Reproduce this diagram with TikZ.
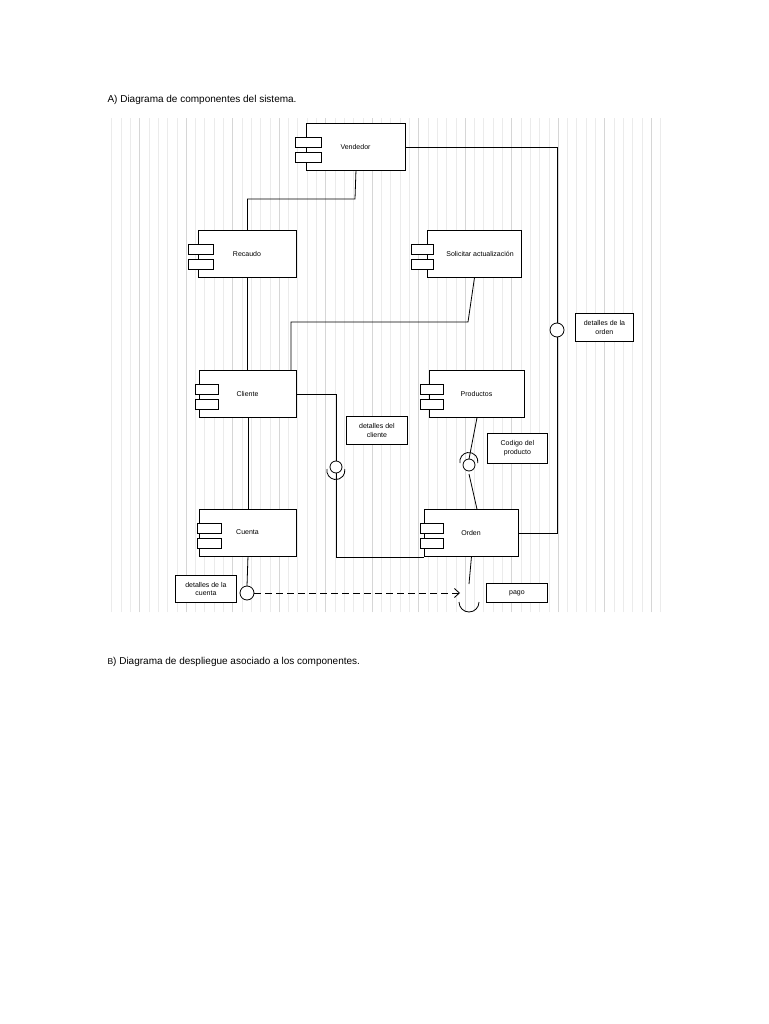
\documentclass[tikz,border=0pt]{standalone}
\usepackage{fontspec}
\setmainfont{Liberation Sans}
\usetikzlibrary{arrows.meta}
\begin{document}
\begin{tikzpicture}[x=1pt,y=-1pt,
  comp/.style={draw,line width=0.9pt,fill=white,inner sep=0pt,font=\fontsize{7}{8}\selectfont},
  tab/.style={draw,line width=0.9pt,fill=white},
  lab/.style={draw,line width=0.8pt,fill=white,align=center,inner sep=0pt,font=\fontsize{7}{8.5}\selectfont},
  wire/.style={line width=0.8pt},
  title/.style={anchor=west,font=\fontsize{10}{12}\selectfont}]
\useasboundingbox (0,0) rectangle (768,1024);
\fill[white] (0,0) rectangle (768,1024);
% grid
\draw[black!8,line width=0.3pt] (107,118) grid[step=9.3] (668,612);
\draw[black!16,line width=0.5pt] (107,118) grid[step=46.5] (668,612);
\node[title] (ta) at (104,100) {A) Diagrama de componentes del sistema.};
\node[title] (tb) at (104,662) {{\fontsize{8.5}{10}\selectfont B}) Diagrama de despliegue asociado a los componentes.};
% components
\newcommand\mycomp[7]{%
 \node[comp,minimum width=#3-#2,minimum height=47,anchor=north west] (#1) at (#2,#4) {};
 \draw[tab] (#5,#4+14) rectangle (#6,#4+24);
 \draw[tab] (#5,#4+29) rectangle (#6,#4+39);
 \node[font=\fontsize{7}{8}\selectfont] (#1t) at ($(#2,#4)!0.5!(#3,#4+47)$) {#7};}
\usetikzlibrary{calc}
\mycomp{ven}{306}{405}{123}{295}{321}{Vendedor}
\mycomp{rec}{198}{296}{230}{188}{213}{Recaudo}
\mycomp{sol}{427}{521}{230}{411}{433}{\hspace*{12pt}Solicitar actualización}
\mycomp{cli}{199}{296}{370}{195}{218}{Cliente}
\mycomp{pro}{429}{524}{370}{420}{443}{Productos}
\mycomp{cue}{199}{296}{509}{197}{221}{Cuenta}
\mycomp{ord}{424}{518}{509}{420}{443}{Orden}
% coordinates
\coordinate (b1) at (557,330);
\coordinate (b2) at (336,467);
\coordinate (b3) at (469,465);
\coordinate (b4) at (247,593);
\coordinate (s4) at (469,593);
% connectors
\draw[wire] (ven.south) -- (355,199) -| (rec.north);
\draw[wire] (rec.south) -- (cli.north -| rec.south);
\draw[wire] (sol.south) -- (468,322) -| (291,370);
\draw[wire] (cli.east) -| ($(b2)+(0,-6)$);
\draw[wire] ($(b2)+(0,6)$) |- (ord.south west);
\draw[wire] (pro.south) -- ($(b3)+(0,-6)$);
\draw[wire] ($(b3)+(0,9)$) -- (ord.north -| pro.south);
\draw[wire] (ven.east) -| ($(b1)+(0,-7)$);
\draw[wire] ($(b1)+(0,7)$) |- (ord.east);
\draw[wire] (cli.south) -- (cue.north);
\draw[wire] (cue.south) -- ($(b4)+(0,-7)$);
\draw[wire] (ord.south) -- ($(s4)+(0,-9)$);
% balls and sockets
\draw[wire,fill=white] (b1) circle (7);
\draw[wire,fill=white] (b2) circle (6);
\draw[wire] ($(b2)+(-9,2)$) arc (190:-10:9);
\draw[wire,fill=white] (b3) circle (6);
\draw[wire] ($(b3)+(-9,-2)$) arc (170:370:9);
\draw[wire,fill=white] (b4) circle (7);
\draw[wire] ($(s4)+(-10,9)$) arc (180:0:10 and 10);
\draw[wire,dashed,dash pattern=on 7pt off 4pt,-{Straight Barb[length=5pt,width=9pt]}] ($(b4)+(7,0)$) -- ($(s4)+(-9,0)$);
% labels
\node[lab,minimum width=58,minimum height=28,anchor=north west] (l1) at (575,313) {detalles de la\\orden};
\node[lab,minimum width=61,minimum height=28,anchor=north west] (l2) at (346,416) {detalles del\\cliente};
\node[lab,minimum width=60,minimum height=30,anchor=north west] (l3) at (487,433) {Codigo del\\producto};
\node[lab,minimum width=61,minimum height=27,anchor=north west] (l4) at (175,575) {detalles de la\\cuenta};
\node[lab,minimum width=61,minimum height=19,anchor=north west] (l5) at (486,583) {pago};
\end{tikzpicture}
\end{document}
